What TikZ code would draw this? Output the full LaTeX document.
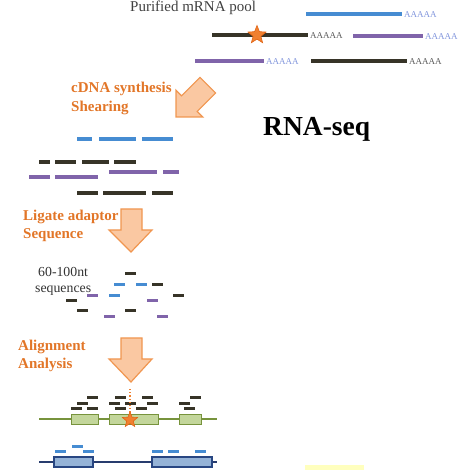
\documentclass[tikz,border=0pt]{standalone}
\usepackage{fontspec}
\setmainfont{Liberation Serif}
\usetikzlibrary{shapes.geometric}
\definecolor{otext}{RGB}{226,118,40}
\definecolor{afill}{RGB}{250,200,162}
\definecolor{adraw}{RGB}{240,150,80}
\definecolor{mblue}{RGB}{70,140,210}
\definecolor{mpurple}{RGB}{128,100,170}
\definecolor{mblack}{RGB}{55,52,40}
\definecolor{polyb}{RGB}{130,150,220}
\definecolor{polyg}{RGB}{90,90,90}
\definecolor{gfill}{RGB}{195,214,155}
\definecolor{gdraw}{RGB}{119,147,60}
\definecolor{bfill}{RGB}{149,179,215}
\definecolor{bdraw}{RGB}{40,70,130}
\definecolor{bline}{RGB}{40,60,110}
\definecolor{staro}{RGB}{240,128,48}
\definecolor{stard}{RGB}{225,100,20}
\definecolor{pale}{RGB}{255,255,190}
\begin{document}
\begin{tikzpicture}[x=1pt,y=-1pt,
  mrna/.style={line width=3.3pt},
  frag/.style={line width=3.2pt},
  rd/.style={line width=3pt},
  polya/.style={anchor=base west,inner sep=0pt,font=\fontsize{9}{10}\selectfont},
  steplabel/.style={anchor=base west,inner sep=0pt,text=otext,font=\fontsize{15}{18}\selectfont\bfseries},
  bigarrow/.style={fill=afill,draw=adraw,line width=1.2pt,line join=miter},
  mutstar/.style={star,star points=5,star point ratio=2.3,fill=staro,draw=stard,line width=0.6pt,inner sep=0pt},
  exong/.style={fill=gfill,draw=gdraw,line width=1pt},
  exonb/.style={fill=bfill,draw=bdraw,line width=1.2pt}]
\useasboundingbox (0,0) rectangle (474,470);
% title texts
\node[anchor=base west,inner sep=0pt,text=black!75,font=\fontsize{15}{18}\selectfont] (pool) at (130,12) {Purified mRNA pool};
\node[anchor=base west,inner sep=0pt,font=\fontsize{27.5}{30}\selectfont\bfseries] (title) at (263,136) {RNA-seq};
% mRNA pool
\draw[mrna,mblue] (306,14) -- (402,14);
\node[polya,text=polyb] (pa1) at (404,17.5) {AAAAA};
\draw[mrna,mblack] (212,35) -- (308,35);
\node[polya,text=polyg] (pa2) at (310,38.5) {AAAAA};
\draw[mrna,mpurple] (353,36) -- (423,36);
\node[polya,text=polyb] (pa3) at (425,39.5) {AAAAA};
\draw[mrna,mpurple] (195,61) -- (264,61);
\node[polya,text=polyb] (pa4) at (266,64.5) {AAAAA};
\draw[mrna,mblack] (311,61) -- (407,61);
\node[polya,text=polyg] (pa5) at (409,64.5) {AAAAA};
\node[mutstar,minimum size=19pt] (star1) at (257,35) {};
% step 1
\node[steplabel] (s1a) at (71,93) {cDNA synthesis};
\node[steplabel] (s1b) at (71,112) {Shearing};
\draw[bigarrow] (176,117) -- (176,90.2) -- (181.6,95.8) -- (200,77.4) -- (215.6,93) -- (197.2,111.4) -- (202.8,117) -- cycle;
% fragments
\foreach \a/\b in {77/92,99/136,142/173} \draw[frag,mblue] (\a,139) -- (\b,139);
\foreach \a/\b in {39/50,55/76,82/109,114/136} \draw[frag,mblack] (\a,162) -- (\b,162);
\foreach \a/\b in {109/157,163/179} \draw[frag,mpurple] (\a,172) -- (\b,172);
\foreach \a/\b in {29/50,55/98} \draw[frag,mpurple] (\a,177) -- (\b,177);
\foreach \a/\b in {77/98,103/146,152/173} \draw[frag,mblack] (\a,193) -- (\b,193);
% step 2
\node[steplabel] (s2a) at (23,221) {Ligate adaptor};
\node[steplabel] (s2b) at (23,239) {Sequence};
\draw[bigarrow] (121,209) -- (142,209) -- (142,230) -- (152,230) -- (131,252) -- (109,230) -- (121,230) -- cycle;
% sequences
\node[anchor=base west,inner sep=0pt,text=black!80,font=\fontsize{13.8}{16}\selectfont] (n1) at (38,277) {60-100nt};
\node[anchor=base west,inner sep=0pt,text=black!80,font=\fontsize{13.8}{16}\selectfont] (n2) at (35,293) {sequences};
\foreach \a/\y in {125/274,152/285,173/296,66/301,77/311,125/311} \draw[rd,mblack] (\a,\y) -- ++(11,0);
\foreach \a/\y in {114/285,136/285,109/296} \draw[rd,mblue] (\a,\y) -- ++(11,0);
\foreach \a/\y in {87/296,147/301,104/317,157/317} \draw[rd,mpurple] (\a,\y) -- ++(11,0);
% step 3
\node[steplabel] (s3a) at (18,351) {Alignment};
\node[steplabel] (s3b) at (18,368) {Analysis};
\draw[bigarrow] (121,338) -- (142,338) -- (142,359) -- (152,359) -- (131,382) -- (109,359) -- (121,359) -- cycle;
% green gene
\draw[gdraw,line width=1.5pt] (39,419) -- (217,419);
\foreach \a/\b in {71/98,109/158,179/201} \draw[exong] (\a,414) rectangle (\b,424);
\foreach \a/\y in {87/397,115/397,142/397,190/397,77/403,109/403,125/403,147/403,179/403,71/408,87/408,115/408,136/408,184/408}
  \draw[rd,mblack] (\a,\y) -- ++(11,0);
\draw[staro,line width=1.2pt,dotted] (130,389) -- (130,414);
\node[mutstar,minimum size=16pt] (star2) at (130,420) {};
% blue gene
\draw[bline,line width=1.5pt] (39,462) -- (217,462);
\foreach \a/\b in {54/93,152/212} \draw[exonb] (\a,457) rectangle (\b,467);
\foreach \a/\y in {72/446,55/451,83/451,152/451,168/451,195/451}
  \draw[rd,mblue] (\a,\y) -- ++(11,0);
\fill[pale] (305,465) rectangle (364,470);
\end{tikzpicture}
\end{document}
